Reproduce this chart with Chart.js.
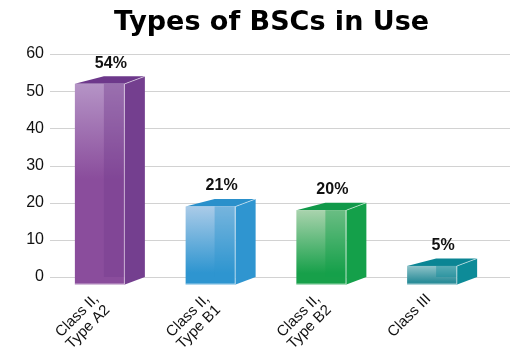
<!DOCTYPE html>
<html><head><meta charset="utf-8">
<script src="https://cdn.jsdelivr.net/npm/chart.js@4/dist/chart.umd.min.js"></script>
<style>html,body{margin:0;padding:0;background:#fff}</style>
</head><body><canvas id="c" width="518" height="363"></canvas>
<script>
// ---- data ----
const chartTitle = 'Types of BSCs in Use';
const categories = [['Class II,', 'Type A2'], ['Class II,', 'Type B1'], ['Class II,', 'Type B2'], ['Class III']];
const shares = [54, 21, 20, 5];
const yTickValues = [0, 10, 20, 30, 40, 50, 60];

// ---- styles ----
const faceColors = [
  { frontTop: '#b594c6', frontBottom: '#8a4d9c', side: '#743f8f', top: '#6d388b' },
  { frontTop: '#aacbe8', frontBottom: '#2e95d0', side: '#2f95d0', top: '#2a90cb' },
  { frontTop: '#a9d3ad', frontBottom: '#17a04a', side: '#14a04a', top: '#11994a' },
  { frontTop: '#8fc3c9', frontBottom: '#2b8d99', side: '#0d8b98', top: '#0b8594' }
];
const DX_L = 29, DX_R = 20, DY = 7.5, GRID_EXTRA = 17;

function hexA(hex, a) {
  const n = parseInt(hex.slice(1), 16);
  return `rgba(${n >> 16},${(n >> 8) & 255},${n & 255},${a})`;
}

const gridPlugin = {
  id: 'fullGrid',
  beforeDatasetsDraw(chart) {
    const { ctx, chartArea, scales: { y } } = chart;
    ctx.save();
    ctx.strokeStyle = '#d2d2d2';
    ctx.lineWidth = 1;
    y.ticks.forEach(t => {
      const py = Math.round(y.getPixelForValue(t.value)) + 0.5;
      ctx.beginPath();
      ctx.moveTo(chartArea.left, py);
      ctx.lineTo(chartArea.right + GRID_EXTRA, py);
      ctx.stroke();
    });
    ctx.restore();
  }
};

const box3dPlugin = {
  id: 'box3d',
  afterDatasetsDraw(chart) {
    const { ctx } = chart;
    const meta = chart.getDatasetMeta(0);
    meta.data.forEach((el, i) => {
      const { x, y, base, width } = el.getProps(['x', 'y', 'base', 'width'], true);
      const c = faceColors[i];
      const fl = x - width / 2 - 5.5, fr = fl + width;
      const ft = y + DY, fb = base + DY;
      ctx.save();
      // top face
      ctx.fillStyle = c.top;
      ctx.beginPath();
      ctx.moveTo(fl, ft); ctx.lineTo(fl + DX_L, ft - DY); ctx.lineTo(fr + DX_R, ft - DY); ctx.lineTo(fr, ft);
      ctx.closePath(); ctx.fill();
      // side face
      ctx.fillStyle = c.side;
      ctx.beginPath();
      ctx.moveTo(fr, ft); ctx.lineTo(fr + DX_R, ft - DY); ctx.lineTo(fr + DX_R, fb - DY); ctx.lineTo(fr, fb);
      ctx.closePath(); ctx.fill();
      // front face gradient
      const h = fb - ft;
      const g = ctx.createLinearGradient(0, ft, 0, ft + Math.min(h * 0.85, 95));
      g.addColorStop(0, c.frontTop);
      g.addColorStop(1, c.frontBottom);
      ctx.fillStyle = g;
      ctx.fillRect(fl, ft, width, h);
      // back face seen through
      ctx.fillStyle = hexA(c.side, 0.42);
      ctx.fillRect(fl + DX_L, ft, fr - fl - DX_L, fb - DY - ft);
      // highlights
      ctx.strokeStyle = 'rgba(255,255,255,0.55)';
      ctx.lineWidth = 1;
      ctx.beginPath();
      ctx.moveTo(fr - 0.5, ft); ctx.lineTo(fr - 0.5, fb - 0.5); ctx.lineTo(fl, fb - 0.5);
      ctx.moveTo(fr, ft); ctx.lineTo(fr + DX_R, ft - DY);
      ctx.stroke();
      ctx.restore();
      // value label
      ctx.save();
      ctx.font = 'bold 16px "Liberation Sans", Arial, sans-serif';
      ctx.fillStyle = '#111';
      ctx.textAlign = 'center';
      ctx.textBaseline = 'alphabetic';
      ctx.fillText(shares[i] + '%', x + 5.5, y - 8.5);
      ctx.restore();
    });
  }
};

new Chart(document.getElementById('c'), {
  type: 'bar',
  data: {
    labels: categories,
    datasets: [{
      data: shares,
      backgroundColor: 'rgba(0,0,0,0)',
      borderWidth: 0,
      barPercentage: 0.4515,
      categoryPercentage: 1
    }]
  },
  options: {
    responsive: false,
    animation: false,
    devicePixelRatio: 1,
    layout: { padding: { left: 0, right: 25, top: 0, bottom: 0 } },
    plugins: {
      legend: { display: false },
      tooltip: { enabled: false },
      title: {
        display: true,
        text: chartTitle,
        fullSize: false,
        color: '#000',
        font: { family: '"DejaVu Sans", sans-serif', size: 27, weight: 'bold' },
        padding: { top: 7, bottom: 14.6 }
      }
    },
    scales: {
      y: {
        min: 0, max: 60,
        afterBuildTicks: s => { s.ticks = yTickValues.map(v => ({ value: v })); },
        afterFit: s => { s.width = 50; },
        grid: { display: false, drawTicks: false },
        border: { display: false },
        ticks: {
          padding: 6,
          color: '#111',
          font: { family: '"Liberation Sans", Arial, sans-serif', size: 16 }
        }
      },
      x: {
        afterFit: s => { s.height = 86; },
        grid: { display: false, drawTicks: false },
        border: { display: false },
        ticks: {
          minRotation: 45, maxRotation: 45,
          padding: 14,
          labelOffset: -9,
          color: '#111',
          font: { family: '"Liberation Sans", Arial, sans-serif', size: 15, lineHeight: 1.05 }
        }
      }
    }
  },
  plugins: [gridPlugin, box3dPlugin]
});
</script>
</body></html>
